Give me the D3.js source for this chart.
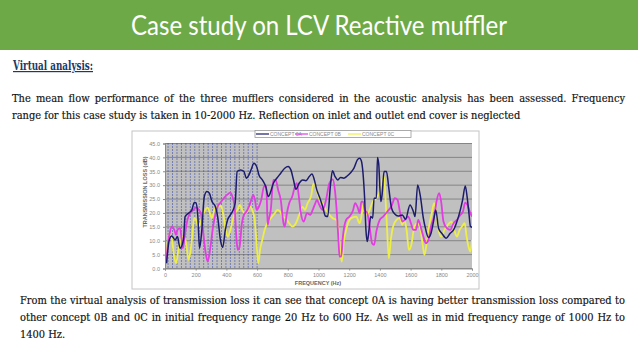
<!DOCTYPE html>
<html>
<head>
<meta charset="utf-8">
<script src="https://cdn.jsdelivr.net/npm/d3@7"></script>
<style>
  body { margin: 0; background: #fff; }
  svg { display: block; }
</style>
</head>
<body>
<svg id="slide" width="638" height="359"></svg>
<script>

// transmission loss curves, [frequency Hz, loss dB]
const concept0A = [[10,1.9],[28,10.3],[44,11.7],[66,10.3],[81,11.5],[98,7.3],[120,10.3],[131,18.7],[153,19.9],[175,21.1],[190,23.7],[203,23.7],[214,18.7],[225,7.3],[240,13.9],[256,25.9],[273,27.7],[289,27.1],[306,24.1],[328,22.3],[343,18.7],[361,10.3],[376,7.6],[393,13.9],[409,17.7],[426,19.3],[444,21.1],[457,23.5],[470,34.9],[492,35.5],[514,34.9],[531,32.5],[547,33.7],[562,35.7],[579,37.9],[597,36.7],[612,33.7],[634,31.9],[656,29.5],[673,25.9],[689,27.7],[706,30.7],[728,32.5],[754,34.3],[780,36.1],[802,36.7],[820,35.5],[837,31.9],[853,28.5],[874,30.7],[896,31.9],[918,31.6],[940,33.1],[957,34.0],[973,31.9],[988,28.5],[1005,25.9],[1027,22.3],[1045,18.9],[1060,18.7],[1078,30.1],[1091,35.2],[1108,33.1],[1126,31.9],[1143,32.8],[1165,32.5],[1187,33.3],[1209,34.5],[1231,36.1],[1253,39.1],[1268,39.7],[1279,38.8],[1290,34.3],[1301,24.7],[1309,13.9],[1318,9.7],[1329,13.9],[1340,18.7],[1353,18.1],[1362,25.3],[1377,25.3],[1384,40.0],[1392,37.9],[1406,24.1],[1414,26.5],[1427,34.9],[1443,34.9],[1458,28.9],[1476,21.7],[1497,19.6],[1519,18.9],[1546,19.3],[1567,17.7],[1596,22.9],[1618,20.5],[1629,18.7],[1646,30.1],[1664,25.9],[1683,18.1],[1699,13.9],[1716,11.2],[1733,12.7],[1749,16.9],[1764,21.1],[1782,14.5],[1803,12.7],[1832,10.9],[1858,12.7],[1880,13.9],[1902,16.9],[1924,21.1],[1939,24.7],[1956,29.7],[1968,25.9],[1980,19.9],[1990,15.1],[2000,14.8]];

const concept0B = [[10,1.9],[15,6.7],[33,13.3],[44,15.1],[61,13.9],[72,12.1],[81,13.9],[98,14.5],[109,10.3],[116,7.3],[131,12.7],[146,17.5],[164,19.9],[186,21.1],[203,22.0],[221,21.1],[234,19.9],[247,13.9],[262,6.7],[278,2.5],[295,7.3],[313,15.1],[330,19.9],[343,22.3],[361,23.7],[383,25.3],[404,26.5],[426,27.3],[439,25.9],[453,22.3],[466,10.3],[474,6.7],[485,7.6],[501,16.3],[514,19.3],[531,20.5],[547,22.3],[562,24.7],[575,26.5],[586,24.7],[597,21.1],[612,22.3],[627,24.7],[645,29.5],[660,29.7],[669,15.7],[678,18.1],[689,21.1],[706,31.9],[721,31.9],[737,28.3],[754,24.7],[772,16.3],[780,15.1],[794,19.9],[809,23.5],[829,25.9],[846,29.5],[859,30.7],[872,25.9],[885,19.9],[903,16.9],[925,19.9],[947,19.3],[962,21.1],[977,23.2],[990,24.7],[1005,22.9],[1027,21.1],[1049,24.7],[1071,30.7],[1093,32.1],[1108,27.7],[1121,18.7],[1130,10.3],[1137,4.3],[1148,4.3],[1159,11.5],[1180,17.5],[1202,18.7],[1224,20.8],[1239,23.5],[1257,21.7],[1268,19.9],[1279,24.1],[1290,24.1],[1301,21.1],[1318,19.9],[1333,15.1],[1349,9.1],[1362,8.5],[1377,13.3],[1399,17.5],[1421,18.7],[1449,20.5],[1476,22.5],[1497,25.3],[1515,24.7],[1530,20.5],[1546,16.9],[1563,17.5],[1585,18.7],[1602,16.3],[1618,13.9],[1635,13.9],[1650,17.5],[1668,14.5],[1683,11.5],[1699,9.1],[1716,10.3],[1733,15.1],[1755,19.3],[1771,24.7],[1786,27.1],[1799,24.1],[1814,16.9],[1836,14.5],[1858,13.9],[1880,16.3],[1902,17.5],[1924,19.3],[1941,20.5],[1956,23.7],[1970,22.9],[1985,20.5],[2000,18.7]];

const concept0C = [[10,1.9],[15,8.5],[28,12.1],[44,10.9],[55,6.1],[72,1.9],[87,6.7],[103,10.3],[116,11.5],[131,10.9],[142,7.3],[153,3.1],[164,5.5],[177,11.5],[190,18.1],[203,17.5],[216,15.1],[230,16.3],[247,19.3],[262,21.1],[278,22.0],[291,20.2],[306,18.1],[321,21.1],[343,22.3],[365,22.5],[383,18.4],[398,13.3],[409,11.5],[426,13.9],[444,18.1],[459,20.2],[474,21.2],[487,22.9],[503,21.1],[518,19.9],[536,20.5],[553,22.3],[568,21.1],[584,17.5],[595,10.3],[601,5.5],[608,1.9],[619,6.7],[634,10.3],[649,13.9],[667,16.3],[689,18.1],[715,19.9],[732,21.1],[750,20.5],[765,18.7],[787,18.1],[809,16.3],[831,15.1],[853,16.3],[874,19.3],[896,22.2],[912,21.1],[929,23.5],[951,25.9],[968,30.6],[977,30.1],[990,27.7],[1008,24.7],[1027,23.5],[1049,21.1],[1071,19.3],[1093,18.1],[1115,17.5],[1130,13.9],[1143,5.5],[1152,2.5],[1163,9.1],[1180,13.9],[1202,17.5],[1224,18.4],[1246,18.7],[1268,16.3],[1283,19.9],[1296,24.1],[1307,20.5],[1318,19.3],[1333,21.1],[1355,24.1],[1377,25.3],[1399,27.7],[1414,31.9],[1427,33.1],[1436,25.9],[1447,13.9],[1458,3.7],[1471,10.3],[1486,15.1],[1508,17.5],[1530,18.1],[1546,15.7],[1559,17.5],[1574,13.9],[1589,6.7],[1607,9.1],[1624,15.1],[1646,16.3],[1664,13.9],[1679,8.5],[1690,4.9],[1705,9.1],[1720,15.1],[1738,19.9],[1753,23.5],[1764,21.1],[1782,13.9],[1799,11.5],[1821,13.9],[1843,15.7],[1865,16.9],[1884,13.9],[1902,11.5],[1919,13.9],[1935,15.1],[1952,16.3],[1965,11.5],[1977,7.9],[1989,6.1],[2000,10.3]];

const seriesNames = ["CONCEPT 0A", "CONCEPT 0B", "CONCEPT 0C"];
const xTicks = [0, 200, 400, 600, 800, 1000, 1200, 1400, 1600, 1800, 2000];
const yTicks = [0, 5, 10, 15, 20, 25, 30, 35, 40, 45];
// the dotted verticals in the low frequency band
const dottedFreqs = d3.range(20, 601, 29);

const titleText = "Case study on LCV Reactive muffler";
const headingText = "Virtual analysis:";
const introLines = [
  "The mean flow performance of the three mufflers considered in the acoustic analysis has been assessed. Frequency",
  "range for this case study is taken in 10-2000 Hz. Reflection on inlet and outlet end cover is neglected"
];
const outroLines = [
  "From the virtual analysis of transmission loss it can see that concept 0A is having better transmission loss compared to",
  "other concept 0B and 0C in initial frequency range 20 Hz to 600 Hz. As well as in mid frequency range of 1000 Hz to",
  "1400 Hz."
];

const colors = ["#1c1c6c", "#e23ce2", "#eeee48"];
const serif = "'DejaVu Serif Condensed', 'Liberation Serif', serif";
const sans = "'Liberation Sans', Arial, sans-serif";

const svg = d3.select("#slide");

// ---- title band
svg.append("rect").attr("x", 0).attr("y", 0).attr("width", 638).attr("height", 50)
  .attr("fill", "#6ea948");
svg.append("text").attr("x", 319).attr("y", 35).attr("text-anchor", "middle")
  .attr("fill", "#ffffff").style("font-family", "Lato, 'Open Sans', sans-serif")
  .style("font-size", "26px")
  .attr("textLength", 376).attr("lengthAdjust", "spacingAndGlyphs")
  .text(titleText);

// ---- heading
svg.append("text").attr("x", 13).attr("y", 70)
  .attr("fill", "#1f3864").style("font-family", serif).style("font-weight", "bold")
  .style("font-size", "12px").style("text-decoration", "underline")
  .attr("textLength", 80).attr("lengthAdjust", "spacingAndGlyphs")
  .text(headingText);

// body font size: fit the short intro line to its width in the picture
let probe = svg.append("text").style("font-family", serif).style("font-size", "13px").text(introLines[1]);
let fs = 13 * 509 / probe.node().getComputedTextLength();
probe.remove();

function writeLines(lines, x, y0, right, step) {
  lines.forEach(function(line, i) {
    let tx = svg.append("text").attr("x", x).attr("y", y0 + i * step)
      .attr("fill", "#111").attr("stroke", "#111").attr("stroke-width", 0.15)
      .style("font-family", serif)
      .style("font-size", fs + "px").text(line);
    // justify every line but the last
    if (i < lines.length - 1) {
      let w = tx.node().getComputedTextLength();
      let gaps = (line.match(/ /g) || []).length;
      tx.attr("word-spacing", (right - x - w) / gaps);
    }
  });
}
writeLines(introLines, 12, 102, 625, 17);
writeLines(outroLines, 20, 304, 625, 17);

// ---- chart frame
svg.append("rect").attr("x", 132).attr("y", 131).attr("width", 347).attr("height", 158)
  .attr("fill", "#ffffff").attr("stroke", "#c4c4c4").attr("stroke-width", 1);

const x = d3.scaleLinear().domain([0, 2000]).range([165, 472]);
const y = d3.scaleLinear().domain([0, 45]).range([268.5, 143.5]);

const plot = svg.append("g");
plot.append("rect").attr("x", x(0)).attr("y", y(45)).attr("width", x(2000) - x(0))
  .attr("height", y(0) - y(45)).attr("fill", "#c0c0c0");

plot.append("defs").append("clipPath").attr("id", "clip")
  .append("rect").attr("x", x(0)).attr("y", y(45) - 2).attr("width", x(2000) - x(0))
  .attr("height", y(0) - y(45) + 2);

// horizontal gridlines
plot.selectAll(".hgrid").data(yTicks).enter().append("line")
  .attr("x1", x(0)).attr("x2", x(2000))
  .attr("y1", d => y(d)).attr("y2", d => y(d))
  .attr("stroke", "#858585").attr("stroke-width", 1);

// dotted verticals
plot.selectAll(".vdot").data(dottedFreqs).enter().append("line")
  .attr("x1", d => x(d)).attr("x2", d => x(d))
  .attr("y1", y(45)).attr("y2", y(0))
  .attr("stroke", "#2a3ca8").attr("stroke-width", 1).attr("stroke-dasharray", "1,2");

// axes
const yAxis = d3.axisLeft(y).tickValues(yTicks).tickFormat(d3.format(".1f")).tickSize(2).tickPadding(3);
const xAxis = d3.axisBottom(x).tickValues(xTicks).tickFormat(d3.format("d")).tickSize(2).tickPadding(3);
let gy = svg.append("g").attr("transform", "translate(" + x(0) + ",0)").call(yAxis);
let gx = svg.append("g").attr("transform", "translate(0," + y(0) + ")").call(xAxis);
[gx, gy].forEach(function(g) {
  g.select(".domain").attr("stroke", "#8a8a8a");
  g.selectAll(".tick line").attr("stroke", "#8a8a8a");
  g.selectAll(".tick text").attr("fill", "#888").style("font-family", sans).style("font-size", "5.5px");
});

svg.append("text").attr("x", 318).attr("y", 285).attr("text-anchor", "middle")
  .attr("fill", "#666").style("font-family", sans).style("font-size", "5.5px")
  .style("font-weight", "bold").text("FREQUENCY (Hz)");
svg.append("text").attr("transform", "translate(147,192) rotate(-90)")
  .attr("text-anchor", "middle").attr("fill", "#666").style("font-family", sans)
  .style("font-size", "5.5px").style("font-weight", "bold").text("TRANSMISSION LOSS (dB)");

// ---- curves
const line = d3.line().x(d => x(d[0])).y(d => y(d[1])).curve(d3.curveMonotoneX);
const series = [concept0A, concept0B, concept0C];
// yellow drawn first, navy last
[2, 1, 0].forEach(function(i) {
  plot.append("path").datum(series[i]).attr("clip-path", "url(#clip)")
    .attr("d", line).attr("fill", "none")
    .attr("stroke", colors[i]).attr("stroke-width", i == 0 ? 1.5 : 1.8)
    .attr("stroke-linejoin", "round");
});

// ---- legend
const lg = svg.append("g");
lg.append("rect").attr("x", 255).attr("y", 130.5).attr("width", 156).attr("height", 7)
  .attr("fill", "#fff").attr("stroke", "#999").attr("stroke-width", 0.8);
const legendX = [256, 295, 348];
seriesNames.forEach(function(name, i) {
  lg.append("line").attr("x1", legendX[i]).attr("x2", legendX[i] + 13)
    .attr("y1", 134).attr("y2", 134).attr("stroke", colors[i]).attr("stroke-width", 1.2);
  lg.append("text").attr("x", legendX[i] + 14).attr("y", 136)
    .attr("fill", "#888").style("font-family", sans).style("font-size", "5px").text(name);
});

</script>
</body>
</html>
